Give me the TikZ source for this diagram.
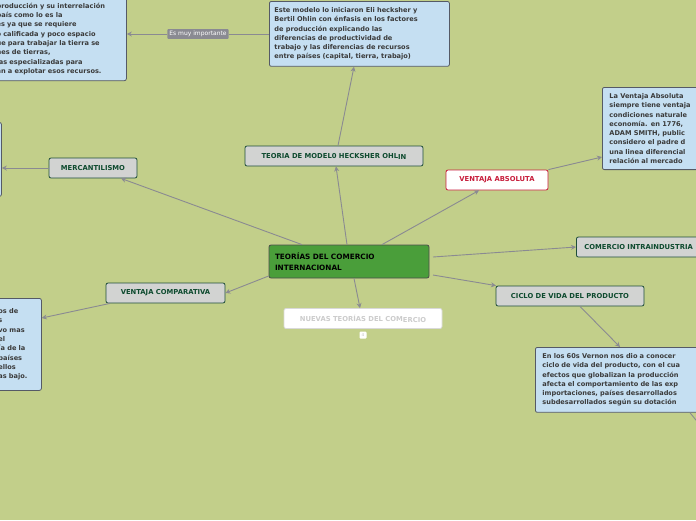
\documentclass[tikz,border=0pt]{standalone}
\usepackage{fontspec}
\setmainfont{DejaVu Sans}
\usetikzlibrary{arrows.meta}
\begin{document}
\begin{tikzpicture}[x=1pt,y=-1pt,
  topic/.style={draw=topb,fill=topf,rounded corners=2pt,line width=0.8pt,text=topt,font=\bfseries\fontsize{6.8}{7}\selectfont,minimum height=20pt,inner xsep=4pt},
  note/.style={draw=noteb,fill=notef,rounded corners=2pt,line width=0.8pt,text=notet,font=\bfseries\fontsize{6.6}{9.3}\selectfont,align=left,inner sep=6pt,anchor=north west},
  conn/.style={draw=linec,line width=0.9pt,-{Stealth[length=5pt,width=5pt]}},
]
\definecolor{bgc}{HTML}{C2CF8A}
\definecolor{topb}{HTML}{1E4D3A}
\definecolor{topf}{HTML}{D2D3D2}
\definecolor{topt}{HTML}{0D4A2E}
\definecolor{noteb}{HTML}{555A66}
\definecolor{notef}{HTML}{C5DFF2}
\definecolor{notet}{HTML}{3A3A3A}
\definecolor{linec}{HTML}{8A8A92}
\useasboundingbox (0,0) rectangle (696,520);
\clip (0,0) rectangle (696,520);
\fill[bgc] (0,0) rectangle (696,520);

\node[note,text width=128pt,inner xsep=4pt] (tl) at (-10,-12.5) {\ determinante entre los\\
\ producción y su interrelación\\
\ país como lo es la\\
\ es ya que se requiere\\
\ o calificada y poco espacio\\
\ ue para trabajar la tierra se\\
\ nes de tierras,\\
\ las especializadas para\\
\ an a explotar esos recursos.};
\node[note,text width=170pt,inner xsep=5pt] (hb) at (269,1) {Este modelo lo iniciaron Eli hecksher y\\Bertil Ohlin con énfasis en los factores\\de producción explicando las\\diferencias de productividad de\\trabajo y las diferencias de recursos\\entre países (capital, tierra, trabajo)};
\node[note,minimum width=20pt,minimum height=74pt] (lb) at (-19,122) {};
\node[note,minimum width=46pt,minimum height=92pt,text width=40pt,inner xsep=3pt] (cb) at (-5,298) {os de\\s\\vo mas\\ el\\ía de la\\países\\ellos\\as bajo.};
\node[note,text width=110pt,inner xsep=7pt] (ab) at (602,87) {La Ventaja Absoluta\\siempre tiene ventaja\\condiciones naturale\\economía. en 1776,\\ADAM SMITH, public\\considero el padre d\\una linea diferencial\\relación al mercado};
\node[note,text width=170pt,inner xsep=7pt] (vb) at (535,347) {En los 60s Vernon nos dio a conocer\\ciclo de vida del producto, con el cua\\efectos que globalizan la producción\\afecta el comportamiento de las exp\\importaciones, países desarrollados\\subdesarrollados según su dotación};

\node[draw=black!70,fill={rgb,255:red,74;green,158;blue,58},rounded corners=2pt,line width=0.8pt,font=\bfseries\fontsize{7.3}{10.5}\selectfont,align=left,text width=148pt,minimum height=33pt,inner xsep=6pt] (c) at (349,261.5) {TEORÍAS DEL COMERCIO\\INTERNACIONAL};
\node[topic,minimum width=178pt] (hk) at (334,156) {TEORIA DE MODEL0 HECKSHER OHL\raisebox{-1pt}{IN}};
\node[topic,minimum width=88pt] (me) at (93,168) {MERCANTILISMO};
\node[topic,minimum width=102pt,draw={rgb,255:red,200;green,30;blue,60},fill=white,text={rgb,255:red,200;green,30;blue,60}] (va) at (497,180) {VENTAJA ABSOLUTA};
\node[topic,anchor=west,inner xsep=8pt] (ci) at (576,247) {COMERCIO INTRAINDUSTRIA};
\node[topic,minimum width=148pt] (cv) at (570,296) {CICLO DE VIDA DEL PRODUCTO};
\node[topic,minimum width=119pt] (vc) at (165.5,293) {VENTAJA COMPARATIVA};
\node[topic,draw=white!85!black,fill=white,text=black!20,minimum width=158pt] (nt) at (363,318.5) {NUEVAS TEORÍAS DEL COM\raisebox{-1pt}{ERCIO}};
\node[fill=white,rounded corners=1pt,minimum size=7pt,inner sep=0pt,font=\fontsize{4}{4}\selectfont,text=black!25] (n4) at (363,335) {4};
\node[fill=linec,text=white,rounded corners=1pt,font=\fontsize{6}{7}\selectfont,inner sep=2pt] (lab) at (198,34) {Es muy importante};
\coordinate (off) at (700,425);

\draw[conn] (hb.west |- lab) -- (lab.east) (lab.west) -- (tl.east |- lab);
\draw[conn] (c.north -| 347,0) -- (hk.south -| 336,0);
\draw[conn] (hk.north -| 338,0) -- (hb.south -| 354,0);
\draw[conn] (c.north -| 302,0) -- (me.south -| 121,0);
\draw[conn] (me.west) -- (lb.east |- me);
\draw[conn] (c.north -| 382,0) -- (va.south -| 479,0);
\draw[conn] (va.north east) -- (ab.west |- 0,157);
\draw[conn] (433,257) -- (ci.west);
\draw[conn] (433,275) -- (cv.north -| 496,0);
\draw[conn] (cv.south -| 580,0) -- (vb.north -| 620,0);
\draw[linec,line width=0.9pt] (vb.south east -| 690,0) -- (off);
\draw[conn] (c.west |- 0,276) -- (vc.east);
\draw[conn] (vc.south -| 110,0) -- (cb.east |- 0,318);
\draw[conn] (c.south -| 354,0) -- (nt.north -| 360,0);
\end{tikzpicture}
\end{document}
